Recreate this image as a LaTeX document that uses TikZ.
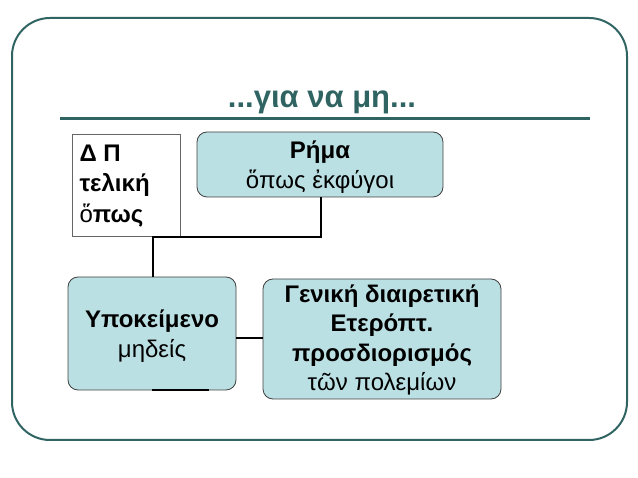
\documentclass[tikz,border=0pt]{standalone}
\usepackage{fontspec}
\setmainfont{Liberation Sans}
\begin{document}
\begin{tikzpicture}[x=1pt,y=-1pt,
  box/.style={draw=black!75,line width=0.8pt,fill=boxc,rounded corners=10pt},
  txt/.style={font=\fontsize{24}{30}\selectfont,align=center},
  conn/.style={line width=1.5pt,black}]
\definecolor{boxc}{HTML}{BBE0E3}
\definecolor{teal}{HTML}{2F6462}
\useasboundingbox (0,0) rectangle (638,478);
\draw[teal,line width=2pt,rounded corners=38pt] (12,18) rectangle (627,440);
\node[font=\fontsize{31}{36}\selectfont\bfseries,text=teal] (title) at (322,102) {...για να μη...};
\draw[teal,line width=3pt] (60,119) -- (590,119);
\node[draw=black!60,fill=white,line width=0.6pt,minimum width=108pt,minimum height=102pt] (dp) at (126,185) {};
\node[anchor=west,align=left,font=\fontsize{24}{30.5}\selectfont] (dpt) at (76,186) {\textbf{Δ Π}\\\textbf{τελική}\\ὅ\textbf{πως}};
\node[box,minimum width=246pt,minimum height=65pt] (rima) at (320,164.5) {};
\node[txt] (rimat) at (320,167) {\textbf{Ρήμα}\\ὅπως ἐκφύγοι};
\node[box,minimum width=168pt,minimum height=113pt] (ypo) at (152,333.5) {};
\node[txt] (ypot) at (152,336) {\textbf{Υποκείμενο}\\μηδείς};
\node[box,minimum width=238pt,minimum height=120pt] (gen) at (382,339) {};
\node[txt,font=\fontsize{24}{29.5}\selectfont] (gent) at (382,340) {\textbf{Γενική διαιρετική}\\\textbf{Ετερόπτ.}\\\textbf{προσδιορισμός}\\τῶν πολεμίων};
\coordinate (c1) at (321,237);
\coordinate (c2) at (153,237);
\coordinate (h) at (0,338);
\draw[conn] (rima.south -| c1) -- (c1) -- (c2) -- (ypo.north -| c2);
\draw[conn] (ypo.east |- h) -- (gen.west |- h);
\coordinate (u1) at (152,390); \coordinate (u2) at (209,390);
\draw[conn] (u1) -- (u2);
\end{tikzpicture}
\end{document}
